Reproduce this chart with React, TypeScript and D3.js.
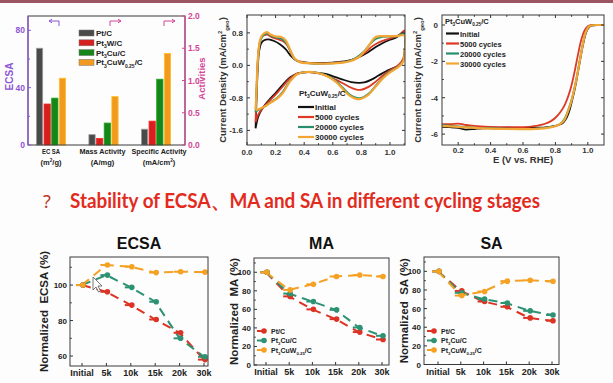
import React from "react";
import * as d3 from "d3";

const W = 613, H = 383;
const FONT = "'Liberation Sans', Arial, sans-serif";

// ---------- Bar chart data ----------
const barGroups = ["ECSA", "Mass Activity", "Specific Activity"];
const barUnits = ["(m^{2}/g)", "(A/mg)", "(mA/cm^{2})"];
const barCatalysts = ["Pt/C", "Pt_{3}W/C", "Pt_{3}Cu/C", "Pt_{3}CuW_{0.25}/C"];
const barColors = ["#4a4a4a", "#d61f1f", "#17861a", "#f29a1e"];
const ecsaBars = [67.5, 28.6, 32.7, 46.6];
const massActivityBars = [0.16, 0.1, 0.34, 0.75];
const specificActivityBars = [0.245, 0.37, 1.02, 1.42];
const ecsaAxisTicks = [0, 40, 80];
const activityTicks = [0, 0.5, 1.0, 1.5, 2.0];

// ---------- CV data (E, j) ----------
const cvInitial: [number, number][] = [[0.06,-1.55],[0.063,-1.2],[0.068,-0.7],[0.075,-0.1],[0.085,0.35],[0.1,0.55],[0.12,0.62],[0.15,0.64],[0.19,0.6],[0.23,0.52],[0.27,0.4],[0.31,0.22],[0.35,0.11],[0.42,0.07],[0.5,0.06],[0.6,0.07],[0.7,0.11],[0.78,0.2],[0.85,0.33],[0.9,0.45],[0.95,0.55],[1.0,0.63],[1.05,0.7],[1.1,0.84],[1.105,0.5],[1.1,0.2],[1.07,0.02],[1.02,-0.07],[0.97,-0.15],[0.92,-0.25],[0.87,-0.35],[0.82,-0.42],[0.78,-0.43],[0.73,-0.41],[0.68,-0.36],[0.62,-0.29],[0.55,-0.21],[0.47,-0.17],[0.4,-0.17],[0.35,-0.2],[0.3,-0.3],[0.25,-0.48],[0.2,-0.68],[0.15,-0.87],[0.11,-1.05],[0.08,-1.25],[0.06,-1.55]];
const cv5000: [number, number][] = [[0.06,-1.4],[0.063,-1.0],[0.068,-0.5],[0.075,0.1],[0.085,0.5],[0.1,0.68],[0.12,0.74],[0.14,0.76],[0.17,0.7],[0.21,0.65],[0.25,0.6],[0.28,0.5],[0.31,0.3],[0.34,0.14],[0.4,0.07],[0.5,0.05],[0.6,0.06],[0.7,0.1],[0.77,0.18],[0.83,0.33],[0.88,0.48],[0.93,0.58],[0.98,0.64],[1.03,0.7],[1.08,0.78],[1.1,0.86],[1.105,0.5],[1.09,0.15],[1.05,-0.02],[1.0,-0.12],[0.95,-0.25],[0.9,-0.4],[0.85,-0.53],[0.8,-0.6],[0.76,-0.59],[0.71,-0.52],[0.66,-0.42],[0.6,-0.32],[0.53,-0.22],[0.45,-0.17],[0.4,-0.17],[0.35,-0.2],[0.3,-0.32],[0.25,-0.52],[0.2,-0.72],[0.15,-0.9],[0.11,-1.05],[0.08,-1.2],[0.06,-1.4]];
const cv20000: [number, number][] = [[0.06,-1.15],[0.065,-0.8],[0.07,-0.3],[0.078,0.2],[0.09,0.55],[0.105,0.7],[0.125,0.77],[0.145,0.78],[0.175,0.72],[0.21,0.68],[0.25,0.64],[0.28,0.52],[0.31,0.3],[0.34,0.13],[0.4,0.06],[0.5,0.04],[0.6,0.05],[0.7,0.09],[0.76,0.18],[0.82,0.35],[0.86,0.52],[0.9,0.65],[0.95,0.7],[1.0,0.71],[1.05,0.72],[1.1,0.78],[1.105,0.45],[1.09,0.1],[1.05,-0.05],[1.0,-0.15],[0.95,-0.3],[0.9,-0.5],[0.85,-0.7],[0.8,-0.8],[0.77,-0.8],[0.72,-0.72],[0.67,-0.55],[0.62,-0.38],[0.55,-0.24],[0.47,-0.17],[0.4,-0.17],[0.35,-0.22],[0.3,-0.38],[0.25,-0.65],[0.21,-0.8],[0.16,-0.92],[0.12,-1.02],[0.08,-1.1],[0.06,-1.15]];
const cv30000: [number, number][] = [[0.06,-1.1],[0.065,-0.75],[0.07,-0.25],[0.078,0.25],[0.09,0.6],[0.105,0.74],[0.125,0.8],[0.14,0.82],[0.165,0.76],[0.2,0.71],[0.24,0.7],[0.27,0.62],[0.3,0.4],[0.33,0.18],[0.37,0.08],[0.45,0.05],[0.55,0.04],[0.65,0.06],[0.72,0.1],[0.78,0.2],[0.83,0.38],[0.87,0.58],[0.9,0.7],[0.95,0.72],[1.0,0.72],[1.05,0.72],[1.1,0.74],[1.105,0.4],[1.09,0.08],[1.05,-0.06],[1.0,-0.17],[0.95,-0.32],[0.9,-0.52],[0.85,-0.72],[0.8,-0.82],[0.77,-0.83],[0.72,-0.75],[0.67,-0.58],[0.62,-0.4],[0.55,-0.25],[0.47,-0.17],[0.4,-0.17],[0.35,-0.22],[0.3,-0.4],[0.25,-0.68],[0.21,-0.82],[0.16,-0.93],[0.12,-1.02],[0.08,-1.08],[0.06,-1.1]];
const cvTicksX = [0, 0.2, 0.4, 0.6, 0.8, 1.0];
const cvTicksY = [-1.6, -0.8, 0, 0.8];

// ---------- LSV data ----------
const lsvInitial: [number, number][] = [[0.1,-5.6],[0.15,-5.62],[0.2,-5.66],[0.25,-5.75],[0.3,-5.72],[0.35,-5.68],[0.4,-5.67],[0.5,-5.65],[0.6,-5.66],[0.7,-5.65],[0.76,-5.6],[0.82,-5.5],[0.85,-5.35],[0.87,-5.1],[0.89,-4.6],[0.91,-3.9],[0.93,-3.05],[0.95,-2.05],[0.97,-1.1],[0.99,-0.4],[1.01,-0.1],[1.03,-0.02],[1.06,0],[1.1,0]];
const lsv5000: [number, number][] = [[0.1,-5.45],[0.15,-5.45],[0.2,-5.42],[0.25,-5.5],[0.3,-5.55],[0.4,-5.6],[0.5,-5.62],[0.6,-5.62],[0.68,-5.55],[0.73,-5.45],[0.77,-5.3],[0.8,-5.1],[0.83,-4.8],[0.86,-4.35],[0.88,-3.9],[0.9,-3.3],[0.92,-2.5],[0.94,-1.6],[0.96,-0.8],[0.98,-0.3],[1.0,-0.07],[1.03,0],[1.1,0]];
const lsv20000: [number, number][] = [[0.1,-5.5],[0.2,-5.58],[0.3,-5.64],[0.4,-5.68],[0.5,-5.7],[0.6,-5.71],[0.7,-5.68],[0.76,-5.62],[0.8,-5.55],[0.84,-5.35],[0.86,-5.1],[0.88,-4.65],[0.9,-4.1],[0.92,-3.35],[0.94,-2.45],[0.96,-1.45],[0.98,-0.6],[1.0,-0.15],[1.02,-0.03],[1.05,0],[1.1,0]];
const lsv30000: [number, number][] = [[0.1,-5.55],[0.2,-5.6],[0.3,-5.66],[0.4,-5.7],[0.5,-5.72],[0.6,-5.73],[0.7,-5.7],[0.76,-5.64],[0.8,-5.57],[0.84,-5.38],[0.86,-5.15],[0.88,-4.7],[0.9,-4.15],[0.92,-3.4],[0.94,-2.5],[0.96,-1.5],[0.98,-0.62],[1.0,-0.16],[1.02,-0.03],[1.05,0],[1.1,0]];
const lsvTicksX = [0.2, 0.4, 0.6, 0.8, 1.0];
const lsvTicksY = [-6, -4, -2, 0];

const cycleLabels = ["Initial", "5000 cycles", "20000 cycles", "30000 cycles"];
const cycleColors = ["#111111", "#dd3a26", "#2a8e6e", "#f2a634"];

// ---------- Stability data ----------
const stages = ["Initial", "5k", "10k", "15k", "20k", "30k"];
const stabSeries = ["Pt/C", "Pt_{3}Cu/C", "Pt_{3}CuW_{0.25}/C"];
const stabColors = ["#dc3324", "#2c9273", "#f4a124"];
const ecsaPtC = [100, 96.2, 88.7, 80.6, 73.1, 58];
const ecsaPt3Cu = [100, 105.6, 98.7, 90.6, 70.0, 59.6];
const ecsaPt3CuW = [100, 111.3, 110.3, 107, 107.5, 107.3];
const maPtC = [100, 74, 60, 49.5, 35.5, 27.5];
const maPt3Cu = [100, 77, 68.5, 59.5, 40.5, 31.5];
const maPt3CuW = [100, 81, 87, 95.5, 97, 95.5];
const saPtC = [100, 79, 67.6, 62, 50, 47];
const saPt3Cu = [100, 77, 70.2, 66, 57.6, 53.2];
const saPt3CuW = [100, 74, 78.4, 89.5, 90.4, 89.3];
const ecsaStabTicks = [60, 80, 100];
const pctTicks = [0, 20, 40, 60, 80, 100];

// ---------- helpers ----------
function Rich({ text, fs }: { text: string; fs: number }) {
  const tokens = text.split(/(_\{[^}]*\}|\^\{[^}]*\})/).filter((s) => s.length);
  let cur = 0;
  return (
    <>
      {tokens.map((t, i) => {
        let target = 0, content = t, size = fs;
        if (t.startsWith("_{")) { target = fs * 0.3; content = t.slice(2, -1); size = fs * 0.62; }
        else if (t.startsWith("^{")) { target = -fs * 0.38; content = t.slice(2, -1); size = fs * 0.62; }
        const dy = target - cur;
        cur = target;
        return (
          <tspan key={i} dy={dy} fontSize={size}>{content}</tspan>
        );
      })}
    </>
  );
}

function Frame({ x0, y0, x1, y1 }: any) {
  return <rect x={x0} y={y0} width={x1 - x0} height={y1 - y0} fill="none" stroke="#3a3a3a" strokeWidth={1} />;
}

const boldText = { fontFamily: FONT, fontWeight: 700 } as const;

// ---------- Bar chart ----------
function BarPanel() {
  const x0 = 28, x1 = 185, y0 = 16, y1 = 145;
  const outer = d3.scaleBand().domain(barGroups).range([24.75, 182.25]).padding(0);
  const inner = d3.scaleBand().domain(barCatalysts).range([-14.6, 14.6]).paddingInner(0.18);
  const yL = d3.scaleLinear().domain([0, 90]).range([y1, y0]);
  const yR = d3.scaleLinear().domain([0, 2]).range([y1, y0]);
  const purple = "#8d55d6", pink = "#d4469a";
  const groupsData = [ecsaBars, massActivityBars, specificActivityBars];
  const labelLens = [18, 46, 55];
  const labelShift = [0, -1, 3];
  return (
    <g>
      {groupsData.map((vals, gi) =>
        vals.map((v, si) => {
          const cx = (outer(barGroups[gi]) as number) + outer.bandwidth() / 2;
          const bx = cx + (inner(barCatalysts[si]) as number);
          const yy = gi === 0 ? yL(v) : yR(v);
          return (
            <rect key={gi + "-" + si} x={bx} y={yy} width={inner.bandwidth()} height={y1 - yy}
              fill={barColors[si]} stroke={si === 0 ? "#9a9a9a" : d3.color(barColors[si])!.brighter(0.6).toString()} strokeWidth={0.8} />
          );
        })
      )}
      <Frame x0={x0} y0={y0} x1={x1} y1={y1} />
      <line x1={x0} x2={x0} y1={y0} y2={y1} stroke={purple} strokeWidth={1.2} />
      <line x1={x1} x2={x1} y1={y0} y2={y1} stroke={pink} strokeWidth={1.2} />
      {ecsaAxisTicks.map((t) => (
        <g key={t}>
          <line x1={x0} x2={x0 + 3} y1={yL(t)} y2={yL(t)} stroke={purple} />
          <text x={x0 - 3} y={yL(t) + 3} textAnchor="end" fontSize={8.5} fill={purple} {...boldText}>{t}</text>
        </g>
      ))}
      {[20, 60].map((t) => <line key={t} x1={x0} x2={x0 + 2} y1={yL(t)} y2={yL(t)} stroke={purple} />)}
      {activityTicks.map((t) => (
        <g key={t}>
          <line x1={x1} x2={x1 - 3} y1={yR(t)} y2={yR(t)} stroke={pink} />
          <text x={x1 + 3} y={yR(t) + 3} fontSize={8.5} fill={pink} {...boldText}>{t.toFixed(1)}</text>
        </g>
      ))}
      <text transform={`translate(13,${(y0 + y1) / 2 - 4}) rotate(-90)`} textAnchor="middle" fontSize={10} fill={purple} {...boldText}>ECSA</text>
      <text transform={`translate(205,${(y0 + y1) / 2 - 2}) rotate(-90)`} textAnchor="middle" fontSize={9.5} fill={pink} {...boldText}>Activities</text>
      {barGroups.map((g, i) => {
        const cx = (outer(g) as number) + outer.bandwidth() / 2 + labelShift[i];
        return (
          <g key={g}>
            <text x={cx} y={154} textAnchor="middle" fontSize={7.5} fill="#222" {...boldText}
              textLength={labelLens[i]} lengthAdjust="spacingAndGlyphs">{g === "ECSA" ? "EC SA" : g}</text>
            <text x={cx} y={165} textAnchor="middle" fontSize={7.5} fill="#222" {...boldText}><Rich text={barUnits[i]} fs={7.5} /></text>
          </g>
        );
      })}
      {/* direction arrows */}
      <g fill="none" strokeWidth={1}>
        <path d="M49,21 H59 V26" stroke={purple} />
        <path d="M49,21 l3,-1.8 M49,21 l3,1.8" stroke={purple} />
        <path d="M110,26 V21 H121" stroke={pink} />
        <path d="M121,21 l-3,-1.8 M121,21 l-3,1.8" stroke={pink} />
        <path d="M164,26 V21 H175" stroke={pink} />
        <path d="M175,21 l-3,-1.8 M175,21 l-3,1.8" stroke={pink} />
      </g>
      {barCatalysts.map((c, i) => (
        <g key={c}>
          <rect x={79} y={30 + i * 9.8} width={15} height={6} fill={barColors[i]} stroke="#777" strokeWidth={0.5} />
          <text x={96} y={36 + i * 9.8} fontSize={8} fill="#222" {...boldText}><Rich text={c} fs={8} /></text>
        </g>
      ))}
    </g>
  );
}

function Ticks({ xs, ys, xt, yt, xMinor, yMinor, box, xFmt, yFmt, xLabelY }: any) {
  const { x0, x1, y0, y1 } = box;
  return (
    <g>
      {xt.map((t: number) => (
        <g key={"x" + t}>
          <line x1={xs(t)} x2={xs(t)} y1={y1} y2={y1 - 3} stroke="#333" />
          <line x1={xs(t)} x2={xs(t)} y1={y0} y2={y0 + 3} stroke="#333" />
          <text x={xs(t)} y={xLabelY} textAnchor="middle" fontSize={8} fill="#333" {...boldText}>{xFmt(t)}</text>
        </g>
      ))}
      {xMinor.map((t: number) => (
        <g key={"xm" + t}>
          <line x1={xs(t)} x2={xs(t)} y1={y1} y2={y1 - 1.8} stroke="#333" />
          <line x1={xs(t)} x2={xs(t)} y1={y0} y2={y0 + 1.8} stroke="#333" />
        </g>
      ))}
      {yt.map((t: number) => (
        <g key={"y" + t}>
          <line x1={x0} x2={x0 + 3} y1={ys(t)} y2={ys(t)} stroke="#333" />
          <line x1={x1} x2={x1 - 3} y1={ys(t)} y2={ys(t)} stroke="#333" />
          <text x={x0 - 4} y={ys(t) + 3} textAnchor="end" fontSize={8} fill="#333" {...boldText}>{yFmt(t)}</text>
        </g>
      ))}
      {yMinor.map((t: number) => (
        <g key={"ym" + t}>
          <line x1={x0} x2={x0 + 1.8} y1={ys(t)} y2={ys(t)} stroke="#333" />
          <line x1={x1} x2={x1 - 1.8} y1={ys(t)} y2={ys(t)} stroke="#333" />
        </g>
      ))}
    </g>
  );
}

function CVPanel() {
  const box = { x0: 247, x1: 405, y0: 15, y1: 145 };
  const xs = d3.scaleLinear().domain([0, 1.105]).range([box.x0, box.x1]);
  const ys = d3.scaleLinear().domain([-1.96, 1.24]).range([box.y1, box.y0]);
  const line = d3.line<[number, number]>().x((d) => xs(d[0])).y((d) => ys(d[1])).curve(d3.curveCatmullRom.alpha(0.5));
  const series = [cvInitial, cv5000, cv20000, cv30000];
  return (
    <g>
      <defs>
        <clipPath id="cvclip"><rect x={box.x0} y={box.y0} width={box.x1 - box.x0} height={box.y1 - box.y0} /></clipPath>
      </defs>
      <g clipPath="url(#cvclip)">
        {series.map((s, i) => (
          <path key={i} d={line(s) || ""} fill="none" stroke={cycleColors[i]} strokeWidth={i === 3 ? 2.2 : 1.8} strokeLinejoin="round" />
        ))}
      </g>
      <Frame {...box} />
      <Ticks xs={xs} ys={ys} box={box} xt={cvTicksX} yt={cvTicksY} xMinor={[0.1, 0.3, 0.5, 0.7, 0.9, 1.1]} yMinor={[-1.2, -0.4, 0.4]}
        xFmt={(t: number) => t.toFixed(1)} yFmt={(t: number) => t.toFixed(1)} xLabelY={155} />
      <text transform={`translate(226,${(box.y0 + box.y1) / 2}) rotate(-90)`} textAnchor="middle" fontSize={9.5} fill="#333" {...boldText}>
        <Rich text="Current Density (mA/cm^{2}_{geo})" fs={9.5} />
      </text>
      <text x={299} y={96} fontSize={8} fill="#222" {...boldText}><Rich text="Pt_{3}CuW_{0.25}/C" fs={8} /></text>
      {cycleLabels.map((c, i) => (
        <g key={c}>
          <line x1={298} x2={314} y1={107 + i * 10} y2={107 + i * 10} stroke={cycleColors[i]} strokeWidth={2.2} />
          <text x={315} y={110 + i * 10} fontSize={8} fill="#222" {...boldText}>{c}</text>
        </g>
      ))}
    </g>
  );
}

function LSVPanel() {
  const box = { x0: 442, x1: 604, y0: 15, y1: 145 };
  const xs = d3.scaleLinear().domain([0.1, 1.1]).range([box.x0, box.x1]);
  const ys = d3.scaleLinear().domain([-6.6, 0.55]).range([box.y1, box.y0]);
  const line = d3.line<[number, number]>().x((d) => xs(d[0])).y((d) => ys(d[1])).curve(d3.curveMonotoneX);
  const series = [lsvInitial, lsv5000, lsv20000, lsv30000];
  return (
    <g>
      {series.map((s, i) => (
        <path key={i} d={line(s) || ""} fill="none" stroke={cycleColors[i]} strokeWidth={i === 3 ? 2.2 : 1.8} />
      ))}
      <Frame {...box} />
      <Ticks xs={xs} ys={ys} box={box} xt={lsvTicksX} yt={lsvTicksY} xMinor={[0.3, 0.5, 0.7, 0.9]} yMinor={[-5, -3, -1]}
        xFmt={(t: number) => t.toFixed(1)} yFmt={(t: number) => String(t)} xLabelY={153} />
      <text x={(box.x0 + box.x1) / 2} y={163} textAnchor="middle" fontSize={9.5} fill="#333" {...boldText}>E (V vs. RHE)</text>
      <text transform={`translate(421,${(box.y0 + box.y1) / 2}) rotate(-90)`} textAnchor="middle" fontSize={9.5} fill="#333" {...boldText}>
        <Rich text="Current Density (mA/cm^{2}_{geo})" fs={9.5} />
      </text>
      <text x={445} y={24} fontSize={7.5} fill="#222" {...boldText}><Rich text="Pt_{3}CuW_{0.25}/C" fs={7.5} /></text>
      {cycleLabels.map((c, i) => (
        <g key={c}>
          <line x1={446} x2={459} y1={33.5 + i * 10} y2={33.5 + i * 10} stroke={cycleColors[i]} strokeWidth={2.2} />
          <text x={460} y={36.5 + i * 10} fontSize={7.5} fill="#222" {...boldText}>{c}</text>
        </g>
      ))}
    </g>
  );
}

function Marker({ x, y, color }: { x: number; y: number; color: string }) {
  return (
    <g>
      <line x1={x - 6} x2={x + 1} y1={y} y2={y} stroke={color} strokeWidth={2} />
      <circle cx={x + 1} cy={y} r={2.8} fill={color} />
    </g>
  );
}

function StabPanel({ title, box, yDomain, yTicks, yMinor, ylabel, ylabelX, data, xFirst, xLast, legend, titleY }: any) {
  const { x0, x1, y0, y1 } = box;
  const xs = d3.scalePoint().domain(stages).range([xFirst, xLast]);
  const ys = d3.scaleLinear().domain(yDomain).range([y1, y0]);
  const line = d3.line<number>().x((_, i) => xs(stages[i]) as number).y((d) => ys(d));
  return (
    <g>
      <text x={(x0 + x1) / 2} y={titleY} textAnchor="middle" fontSize={16} fill="#111" {...boldText}>{title}</text>
      {data.map((vals: number[], si: number) => (
        <path key={si} d={line(vals) || ""} fill="none" stroke={stabColors[si]} strokeWidth={2} strokeDasharray="9 6" />
      ))}
      {data.map((vals: number[], si: number) =>
        vals.map((v, i) => <Marker key={si + "-" + i} x={xs(stages[i]) as number} y={ys(v)} color={stabColors[si]} />)
      )}
      <Frame {...box} />
      {stages.map((s) => (
        <g key={s}>
          <line x1={xs(s)} x2={xs(s)} y1={y1} y2={y1 - 3} stroke="#333" />
          <text x={xs(s)} y={y1 + 10} textAnchor="middle" fontSize={9} fill="#222" {...boldText}>{s}</text>
        </g>
      ))}
      {yTicks.map((t: number) => (
        <g key={t}>
          <line x1={x0} x2={x0 + 3} y1={ys(t)} y2={ys(t)} stroke="#333" />
          <text x={x0 - 3} y={ys(t) + 3} textAnchor="end" fontSize={8} fill="#222" {...boldText}>{t}</text>
        </g>
      ))}
      {yMinor.map((t: number) => <line key={"m" + t} x1={x0} x2={x0 + 1.8} y1={ys(t)} y2={ys(t)} stroke="#333" />)}
      <text transform={`translate(${ylabelX},${(y0 + y1) / 2}) rotate(-90)`} textAnchor="middle" fontSize={11.5} fill="#222" {...boldText} xmlSpace="preserve">{ylabel}</text>
      {legend &&
        stabSeries.map((s, i) => (
          <g key={s}>
            <Marker x={legend.x + 4} y={legend.y + i * 9.5} color={stabColors[i]} />
            <text x={legend.x + 12} y={legend.y + i * 9.5 + 2.5} fontSize={7} fill="#222" {...boldText}><Rich text={s} fs={7} /></text>
          </g>
        ))}
    </g>
  );
}

export default function App() {
  return (
    <div style={{ position: "fixed", left: 0, top: 0, width: W, height: H, background: "#fdfdfd" }}>
      <svg width={W} height={H} viewBox={`0 0 ${W} ${H}`} style={{ display: "block" }}>
        <rect x={0} y={0} width={W} height={H} fill="#fdfdfd" />
        <rect x={0} y={0} width={W} height={3} fill="#9a5560" />
        <BarPanel />
        <CVPanel />
        <LSVPanel />
        <text x={43} y={208} fontSize={18} fill="#c0392b" fontFamily="'Noto Sans', sans-serif">?</text>
        <text x={70} y={208} fontSize={20} fill="#e32b1d" fontFamily="Lato, 'Open Sans', sans-serif" fontWeight={700}
          textLength={470} lengthAdjust="spacingAndGlyphs">Stability of ECSA、MA and SA in different cycling stages</text>
        <StabPanel title="ECSA" titleY={249} box={{ x0: 70, x1: 208, y0: 257, y1: 366 }} yDomain={[54.4, 115.8]} yTicks={ecsaStabTicks} yMinor={[70, 90, 110]}
          ylabel="Normalized  ECSA (%)" ylabelX={48} data={[ecsaPtC, ecsaPt3Cu, ecsaPt3CuW]} xFirst={82} xLast={204} legend={null} />
        <StabPanel title="MA" titleY={249} box={{ x0: 254, x1: 389, y0: 258, y1: 365 }} yDomain={[0, 115.4]} yTicks={pctTicks} yMinor={[10, 30, 50, 70, 90, 110]}
          ylabel="Normalized  MA (%)" ylabelX={238} data={[maPtC, maPt3Cu, maPt3CuW]} xFirst={266} xLast={382} legend={{ x: 259, y: 331 }} />
        <StabPanel title="SA" titleY={249} box={{ x0: 424, x1: 559, y0: 257, y1: 364.5 }} yDomain={[0, 115.4]} yTicks={pctTicks} yMinor={[10, 30, 50, 70, 90, 110]}
          ylabel="Normalized  SA (%)" ylabelX={408} data={[saPtC, saPt3Cu, saPt3CuW]} xFirst={438} xLast={552} legend={{ x: 429, y: 331 }} />
        {/* mouse cursor */}
        <path d="M93,277 L93,290 L96,287 L98.5,292 L100.5,291 L98,286 L102,286 Z" fill="#fff" stroke="#555" strokeWidth={0.8} />
      </svg>
    </div>
  );
}
